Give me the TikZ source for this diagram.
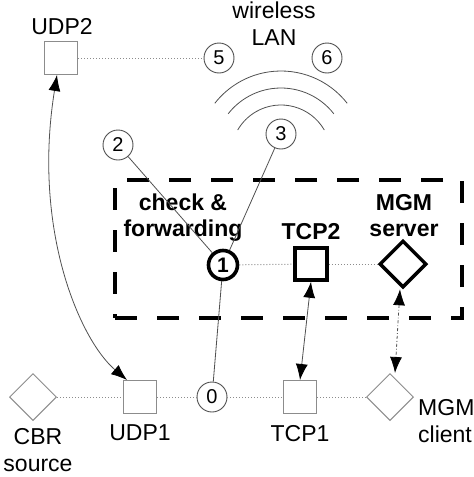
\documentclass[tikz,border=0pt]{standalone}
\usepackage{fontspec}
\setmainfont{Liberation Sans}
\usetikzlibrary{arrows.meta,shapes.geometric}
\definecolor{lgray}{HTML}{8C8C8C}
\definecolor{dgray}{HTML}{505050}
\begin{document}
\begin{tikzpicture}[x=1pt,y=-1pt,
  lbl/.style={font=\fontsize{23}{27}\selectfont, inner sep=0, align=center},
  blbl/.style={font=\fontsize{23}{26}\selectfont\bfseries, inner sep=0, align=center},
  sq/.style={rectangle, draw=lgray, line width=1pt, minimum size=33pt, inner sep=0, fill=white},
  sqb/.style={rectangle, draw=black, line width=3.5pt, minimum size=32pt, inner sep=0, fill=white},
  dia/.style={diamond, aspect=1, draw=lgray, line width=1pt, minimum width=47pt, minimum height=47pt, inner sep=0, fill=white},
  diab/.style={diamond, aspect=1, draw=black, line width=3.5pt, minimum width=47pt, minimum height=47pt, inner sep=0, fill=white},
  num/.style={circle, draw=dgray, line width=0.9pt, minimum size=30pt, inner sep=0, fill=white, font=\fontsize{20}{22}\selectfont},
  numb/.style={circle, draw=black, line width=3.6pt, minimum size=29pt, inner sep=0, fill=white, font=\fontsize{21}{22}\selectfont\bfseries},
  dotl/.style={draw=lgray, line width=1pt, dotted},
  link/.style={draw=dgray, line width=0.8pt},
  arr/.style={draw=dgray, line width=0.8pt, {Latex[length=16pt,width=12pt,color=black]}-{Latex[length=16pt,width=12pt,color=black]}},
]
\useasboundingbox (0,0) rectangle (474,477);

% dashed group box
\node (grp) at (288.5,249) [draw=black, line width=3.5pt, dash pattern=on 22pt off 20pt, minimum width=347pt, minimum height=138pt, inner sep=0] {};

% wireless arcs
\draw[dgray, line width=0.8pt] (281,155) ++(-38:84) arc[start angle=-38, end angle=-142, radius=84];
\draw[dgray, line width=0.8pt] (281,155) ++(-38:67) arc[start angle=-38, end angle=-142, radius=67];
\draw[dgray, line width=0.8pt] (281,155) ++(-30:50) arc[start angle=-30, end angle=-150, radius=50];

% nodes
\node[sq] (udp2) at (61,58) {};
\node[num] (n5) at (219,58) {5};
\node[num] (n6) at (327,58) {6};
\node[num] (n2) at (118,145) {2};
\node[num] (n3) at (281,134) {3};
\node[numb] (n1) at (223,265) {1};
\node[sqb] (tcp2) at (311,264) {};
\node[diab] (mgms) at (403,264) {};
\node[dia] (cbr) at (33,397) {};
\node[sq] (udp1) at (140,397) {};
\node[num] (n0) at (212,397) {0};
\node[sq] (tcp1) at (300,397) {};
\node[dia] (mgmc) at (390,397) {};

% labels
\node[lbl] (ludp2) at (62,27) {UDP2};
\node[lbl] (lwlan) at (274,24) {wireless\\LAN};
\node[blbl] (lcf) at (183,218) {check \&\\forwarding};
\node[blbl] (ltcp2) at (311,232) {TCP2};
\node[blbl] (lmgms) at (404,216) {MGM\\server};
\node[lbl] (lcbr) at (38,450) {CBR\\source};
\node[lbl] (ludp1) at (140,433) {UDP1};
\node[lbl] (ltcp1) at (300,434) {TCP1};
\node[lbl, align=left, anchor=west] (lmgmc) at (418,421) {MGM\\client};

% dotted links
\draw[dotl] (udp2) -- (n5);
\draw[dotl] (n1) -- (tcp2);
\draw[dotl] (tcp2) -- (mgms);
\draw[dotl] (cbr) -- (udp1);
\draw[dotl] (udp1) -- (n0);
\draw[dotl] (n0) -- (tcp1);
\draw[dotl] (tcp1) -- (mgmc);

% solid links
\draw[link] (n2) -- (n1);
\draw[link] (n3) -- (n1);
\draw[link] (n1) -- (n0);

% arrows
\draw[arr] ([xshift=-4pt]udp2.south) .. controls (32,230) and (80,340) .. ([xshift=4pt]udp1.north west);
\draw[arr] (tcp2.south) -- (tcp1.north);
\draw[arr, dash dot] ([xshift=-3pt]mgms.south) -- ([xshift=5pt]mgmc.north);
\end{tikzpicture}
\end{document}
